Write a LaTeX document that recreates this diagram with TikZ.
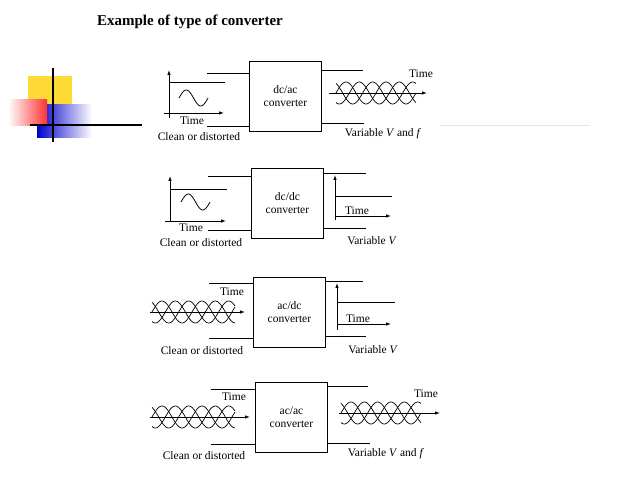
\documentclass[tikz,border=0pt]{standalone}
\usepackage{fontspec}
\setmainfont{Liberation Serif}
\usetikzlibrary{arrows.meta}
\begin{document}
\begin{tikzpicture}[x=1pt,y=-1pt,
  ln/.style={line width=0.8pt},
  ar/.style={line width=0.8pt,-{Latex[length=5pt,width=3.5pt]}},
  conv/.style={draw,line width=0.9pt,minimum width=72pt,minimum height=70pt,align=center,font=\fontsize{11.5}{13}\selectfont,anchor=north west,inner sep=0pt},
  lbl/.style={font=\fontsize{11.5}{13}\selectfont,inner sep=0pt}]
\useasboundingbox (0,0) rectangle (638,478);
\node[font=\bfseries\fontsize{15}{17}\selectfont] (title) at (190,22) {Example of type of converter};
% logo
\fill[yellow!70!orange!80] (28,76) rectangle (72,118);
\shade[left color=blue!80!black, right color=white] (37,105) rectangle (92,138);
\shade[left color=white, right color=red!80] (8,100) rectangle (47,126);
\draw[line width=1.2pt] (53,68) -- (53,142);
\draw[line width=1.2pt] (30,125) -- (142,125);
\draw[gray!20,line width=0.8pt] (440,125) -- (590,125);
% macros
\newcommand{\sinewave}[2]{\draw[ln] plot[domain=0:29,samples=40] ({#1+\x},{#2-8*sin(\x*12.41)});}
\newcommand{\threewave}[3]{\foreach \ph in {0,120,240}{\draw[line width=0.7pt] plot[domain=0:#3,samples=80] ({#1+\x},{#2-11*sin(\x*9+\ph)});}}
% Row 1
\node[conv] (b1) at (249,61) {dc/ac\\converter};
\draw[ln] (207,73) -- (b1.north west |- 0,73);
\draw[ln] (207,126) -- (b1.south west |- 0,126);
\draw[ln] (b1.north east |- 0,70) -- (363,70);
\draw[ln] (b1.south east |- 0,123) -- (364,123);
\draw[ar] (169,118) -- (169,70);
\draw[ln] (169,82) -- (225,82);
\draw[ar] (164,113) -- (224,113);
\sinewave{179}{98}
\node[lbl] (t1) at (192,121) {Time};
\node[lbl] (c1) at (199,137) {Clean or distorted};
\threewave{336}{93}{80}
\draw[ar] (329,93) -- (427,93);
\node[lbl] (t1r) at (421,74) {Time};
\node[lbl] (v1) at (383,134) {Variable \textit{V} and \textit{f}};
% Row 2
\node[conv] (b2) at (251,168) {dc/dc\\converter};
\draw[ln] (208,176) -- (b2.north west |- 0,176);
\draw[ln] (208,230) -- (b2.south west |- 0,230);
\draw[ln] (b2.north east |- 0,173) -- (366,173);
\draw[ln] (b2.south east |- 0,228) -- (366,228);
\draw[ar] (170,221) -- (170,176);
\draw[ln] (170,189) -- (227,189);
\draw[ar] (165,221) -- (226,221);
\sinewave{181}{202}
\node[lbl] (t2) at (191,228) {Time};
\node[lbl] (c2) at (201,243) {Clean or distorted};
\draw[ar] (335,220) -- (335,175);
\draw[ln] (335,196) -- (392,196);
\draw[ar] (335,216) -- (391,216);
\node[lbl] (t2r) at (357,211) {Time};
\node[lbl] (v2) at (372,241) {Variable \textit{V}};
% Row 3
\node[conv] (b3) at (253,277) {ac/dc\\converter};
\draw[ln] (209,283) -- (b3.north west |- 0,283);
\draw[ln] (209,338) -- (b3.south west |- 0,338);
\draw[ln] (b3.north east |- 0,281) -- (363,281);
\draw[ln] (b3.south east |- 0,336) -- (366,336);
\threewave{152}{312}{83}
\draw[ar] (150,312) -- (245,312);
\node[lbl] (t3) at (232,292) {Time};
\node[lbl] (c3) at (202,351) {Clean or distorted};
\draw[ar] (337,330) -- (337,283);
\draw[ln] (337,302) -- (395,302);
\draw[ar] (337,324) -- (391,324);
\node[lbl] (t3r) at (358,319) {Time};
\node[lbl] (v3) at (373,350) {Variable \textit{V}};
% Row 4
\node[conv] (b4) at (255,382) {ac/ac\\converter};
\draw[ln] (211,389) -- (b4.north west |- 0,389);
\draw[ln] (211,444) -- (b4.south west |- 0,444);
\draw[ln] (b4.north east |- 0,386) -- (368,386);
\draw[ln] (b4.south east |- 0,443) -- (370,443);
\threewave{152}{417}{83}
\draw[ar] (150,417) -- (250,417);
\node[lbl] (t4) at (234,397) {Time};
\node[lbl] (c4) at (204,456) {Clean or distorted};
\threewave{341}{413}{80}
\draw[ar] (339,413) -- (440,413);
\node[lbl] (t4r) at (426,394) {Time};
\node[lbl] (v4) at (386,454) {Variable \textit{V} and \textit{f}};
\end{tikzpicture}
\end{document}
